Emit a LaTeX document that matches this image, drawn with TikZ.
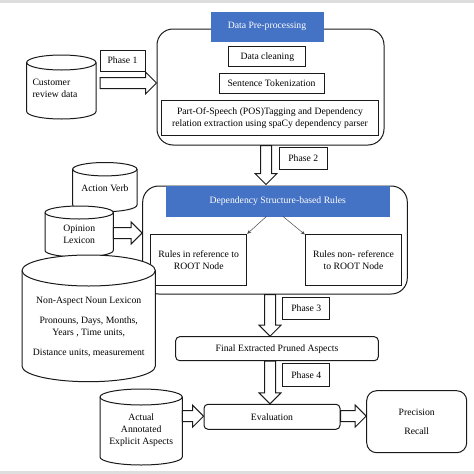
\documentclass[tikz,border=0pt]{standalone}
\usepackage{fontspec}
\setmainfont{Liberation Serif}
\usetikzlibrary{calc,arrows.meta}
\definecolor{hdr}{HTML}{4472C4}
\definecolor{ink}{HTML}{1A1A1A}
\definecolor{band}{HTML}{DEDEDE}
\newcommand\diafont{\fontsize{9.7}{12}\selectfont}
\tikzset{
  ln/.style={draw=ink, line width=1pt},
  box/.style={ln, fill=white, inner sep=1pt, align=center, font=\diafont},
  hdrbox/.style={draw=hdr, fill=hdr, text=white, inner sep=1pt, align=center, font=\diafont},
  frame/.style={inner sep=0pt, outer sep=0pt},
  txt/.style={inner sep=0pt, align=center, font=\diafont},
  blk/.style={ln, fill=white, line join=miter},
  thin/.style={draw=ink!80, line width=0.5pt, -{Stealth[length=4pt,width=3.5pt]}}
}
% horizontal block arrow: start point (x,y), tip point (x only)
\newcommand\harrow[2]{\draw[blk] let \p1=(#1), \p2=(#2) in
  (\x1,{\y1+5.5}) -- ({\x2-11},{\y1+5.5}) -- ({\x2-11},{\y1+11}) -- (\x2,\y1)
  -- ({\x2-11},{\y1-11}) -- ({\x2-11},{\y1-5.5}) -- (\x1,{\y1-5.5}) -- cycle;}
% vertical block arrow (downwards): start point (x,y), tip point (y only)
\newcommand\varrow[2]{\draw[blk] let \p1=(#1), \p2=(#2) in
  ({\x1-5.5},\y1) -- ({\x1-5.5},{\y2+11}) -- ({\x1-11},{\y2+11}) -- (\x1,\y2)
  -- ({\x1+11},{\y2+11}) -- ({\x1+5.5},{\y2+11}) -- ({\x1+5.5},\y1) -- cycle;}
% cylinder: name, x1, y1, x2, y2 (pixels, y downwards), ry
\newcommand\cyl[6]{%
  \node[frame, minimum width={#4-#2}, minimum height={#5-#3}] (#1) at ({(#2+#4)/2},{-(#3+#5)/2}) {};
  \draw[ln, fill=white] (#2,{-#3-#6}) -- (#2,{-#5+#6})
    arc[start angle=180, end angle=360, x radius={(#4-#2)/2}, y radius=#6]
    -- (#4,{-#3-#6})
    arc[start angle=0, end angle=180, x radius={(#4-#2)/2}, y radius=#6] -- cycle;
  \draw[ln] (#2,{-#3-#6}) arc[start angle=180, end angle=360, x radius={(#4-#2)/2}, y radius=#6];
}
\begin{document}
\begin{tikzpicture}[x=1pt, y=1pt]
\useasboundingbox (0,0) rectangle (474,-474);
\fill[band] (0,0) rectangle (474,-3);
\fill[band] (0,-471) rectangle (474,-474);

% ---------- Phase 1 block ----------
\node[box, minimum width=227, minimum height=116, rounded corners=16] (prep) at (270.5,-87) {};
\node[hdrbox, minimum width=112.6, minimum height=29.7] (pre) at (267,-26.8) {Data Pre-processing};
\node[box, minimum width=77.3, minimum height=20] (clean) at (267.3,-56.7) {Data cleaning};
\node[box, minimum width=105, minimum height=20] (tok) at (271.5,-83.3) {Sentence Tokenization};
\node[box, minimum width=217.4, minimum height=35.3] (pos) at (270,-118.3)
  {Part-Of-Speech (POS)Tagging and Dependency\\relation extraction using spaCy dependency parser};

\cyl{cust}{26.7}{55}{96}{119}{7.5}
\node[txt, align=left] (cust-t) at (55,-88) {Customer\\review data};

\node[box, minimum width=45, minimum height=21] (ph1) at (122.5,-60.5) {Phase 1};
\harrow{[xshift=4pt,yshift=4pt]cust.east}{prep.west}

% ---------- Rules block ----------
\node[box, minimum width=264.6, minimum height=108, rounded corners=16] (rules) at (275,-240) {};
\node[hdrbox, minimum width=223.3, minimum height=30] (dep) at (277.7,-201) {Dependency Structure-based Rules};
\node[box, minimum width=96, minimum height=51] (rin) at (198.7,-259.8) {Rules in reference to\\ROOT Node};
\node[box, minimum width=96.4, minimum height=50.7] (rnon) at (353.5,-260.3) {Rules non- reference\\to ROOT Node};
\draw[thin] ([xshift=-11pt]dep.south) -- (rin.north east);
\draw[thin] ([xshift=5pt]dep.south) -- (rnon.north west);

% Phase 2
\varrow{[xshift=-4.5pt]prep.south}{[yshift=1pt]rules.north}
\node[box, minimum width=48, minimum height=22] (ph2) at (303.3,-158.3) {Phase 2};

% ---------- Lexicons ----------
\cyl{verb}{72.7}{162.5}{137}{211.7}{6.7}
\node[txt] (verb-t) at (105,-188) {Action Verb};
\cyl{opin}{45}{206}{113.3}{257}{6.5}
\node[txt] (opin-t) at (79.2,-234.5) {Opinion\\Lexicon};
\harrow{[yshift=-1.5pt]opin.east}{rules.west}
\cyl{noun}{22}{255}{155.3}{381.7}{15.5}
\node[txt] (noun-t) at (88.7,-327) {Non-Aspect Noun Lexicon\\[8pt]Pronouns, Days, Months,\\Years , Time units,\\[8pt]Distance units, measurement};

% ---------- Phase 3 / 4 ----------
\node[box, minimum width=202.6, minimum height=24, rounded corners=4] (final) at (277,-348.7) {Final Extracted Pruned Aspects};
\varrow{[xshift=-5pt]rules.south}{final.north}
\node[box, minimum width=47.3, minimum height=22] (ph3) at (306.3,-308.3) {Phase 3};

\node[box, minimum width=136, minimum height=25, rounded corners=4] (eval) at (272,-416.8) {Evaluation};
\varrow{[xshift=-7pt]final.south}{eval.north}
\node[box, minimum width=47.3, minimum height=22.7] (ph4) at (306.3,-375.3) {Phase 4};

\cyl{act}{100}{389}{182.3}{465}{8}
\node[txt] (act-t) at (141.2,-430.5) {Actual\\Annotated\\Explicit Aspects};
\harrow{[yshift=10.8pt]act.east}{eval.west}

\node[box, minimum width=100, minimum height=62, rounded corners=10] (prec) at (416.7,-421.7) {Precision\\[7pt]Recall};
\harrow{[yshift=0.8pt]eval.east}{prec.west}
\end{tikzpicture}
\end{document}
